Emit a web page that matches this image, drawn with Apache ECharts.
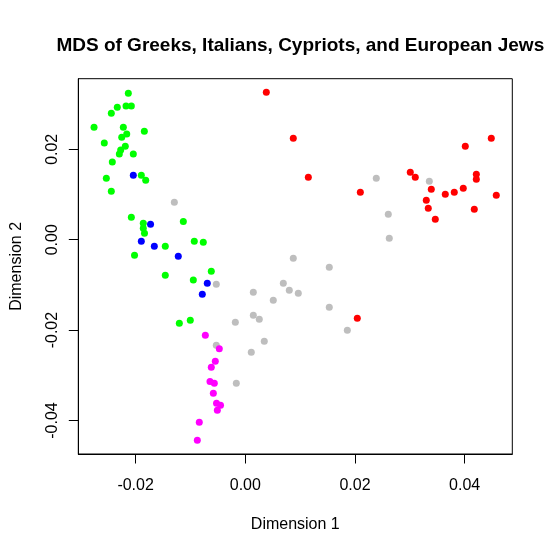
<!DOCTYPE html>
<html>
<head>
<meta charset="utf-8">
<script src="https://cdn.jsdelivr.net/npm/echarts@6/dist/echarts.min.js"></script>
<style>
html,body{margin:0;padding:0;background:#fff;}
#chart{width:553px;height:552px;}
</style>
</head>
<body>
<div id="chart"></div>
<script>
// Data (Dimension 1, Dimension 2)
var greenPoints = [
  [-0.02133,0.03239],[-0.02334,0.02929],[-0.02175,0.02958],[-0.02078,0.02958],
  [-0.02443,0.02796],[-0.02758,0.02487],[-0.02224,0.02487],[-0.01841,0.02398],
  [-0.02162,0.02338],[-0.02253,0.02265],[-0.02571,0.02139],[-0.02188,0.02066],
  [-0.02272,0.01985],[-0.02297,0.01896],[-0.02042,0.01896],[-0.02425,0.01719],
  [-0.02534,0.01358],[-0.01896,0.01425],[-0.01816,0.01314],[-0.02443,0.01071],
  [-0.02078,0.00496],[-0.01130,0.00403],[-0.01860,0.00363],[-0.01860,0.00252],
  [-0.01838,0.00142],[-0.01459,-0.00144],[-0.00930,-0.00035],[-0.00766,-0.00058],
  [-0.02020,-0.00345],[-0.01459,-0.00788],[-0.00620,-0.00699],[-0.00948,-0.00892],
  [-0.01203,-0.01850],[-0.01003,-0.01783]
];
var bluePoints = [
  [-0.02042,0.01425],[-0.01728,0.00341],[-0.01896,-0.00035],[-0.01659,-0.00144],
  [-0.01222,-0.00367],[-0.00693,-0.00965],[-0.00784,-0.01208]
];
var grayPoints = [
  [-0.01294,0.00827],[-0.00529,-0.00987],[-0.00529,-0.02336],[-0.00164,-0.03177],
  [-0.00182,-0.01827],[0.00109,-0.02491],[0.00346,-0.02248],[0.00146,-0.01673],
  [0.00255,-0.01761],[0.00146,-0.01164],[0.00510,-0.01341],[0.00693,-0.00965],
  [0.00802,-0.01119],[0.00966,-0.01186],[0.00875,-0.00412],[0.01531,-0.00611],
  [0.01531,-0.01496],[0.01860,-0.02004],[0.02388,0.01358],[0.03355,0.01292],
  [0.02607,0.00562],[0.02625,0.00031]
];
var redPoints = [
  [0.00383,0.03261],[0.00875,0.02243],[0.01149,0.01381],[0.02097,0.01049],
  [0.03008,0.01491],[0.03099,0.01381],[0.03391,0.01115],[0.03300,0.00872],
  [0.03336,0.00695],[0.03464,0.00451],[0.03646,0.01004],[0.03810,0.01049],
  [0.03974,0.01137],[0.04011,0.02066],[0.04485,0.02243],[0.04212,0.01447],
  [0.04212,0.01336],[0.04175,0.00673],[0.04576,0.00982],[0.02042,-0.01739]
];
var magentaPoints = [
  [-0.00729,-0.02115],[-0.00474,-0.02412],[-0.00547,-0.02690],[-0.00620,-0.02823],
  [-0.00644,-0.03137],[-0.00565,-0.03177],[-0.00583,-0.03398],[-0.00525,-0.03619],
  [-0.00452,-0.03662],[-0.00510,-0.03772],[-0.00839,-0.04040],[-0.00875,-0.04438]
];
var xTicks = [-0.02, 0.00, 0.02, 0.04];
var yTicks = [-0.04, -0.02, 0.00, 0.02];
var titleText = 'MDS of Greeks, Italians, Cypriots, and European Jews';
var xName = 'Dimension 1';
var yName = 'Dimension 2';

var FONT = '"Liberation Sans", Arial, sans-serif';
var chart = echarts.init(document.getElementById('chart'), null, {renderer:'canvas'});

function mk(data, color){
  return {type:'scatter', data:data, symbol:'circle', symbolSize:7,
    itemStyle:{color:color, opacity:1}, emphasis:{disabled:true}, animation:false};
}

chart.setOption({
  animation:false,
  backgroundColor:'#ffffff',
  title:{text:titleText, left:295.3, top:31, textAlign:'center',
    textStyle:{fontFamily:FONT, fontWeight:'bold', fontSize:19, color:'#000'}},
  grid:{left:78.3, right:40.7, top:78.7, bottom:98, show:true, borderColor:'#000', borderWidth:1, backgroundColor:'transparent'},
  xAxis:{type:'value', min:-0.03045, max:0.04868,
    name:xName, nameLocation:'middle', nameGap:63,
    nameTextStyle:{fontFamily:FONT, fontSize:16, color:'#000'},
    axisLine:{show:true, onZero:false, lineStyle:{color:'#000', width:1}},
    axisTick:{show:true, inside:false, length:9.5, customValues:xTicks, lineStyle:{color:'#000', width:1}},
    axisLabel:{show:true, margin:24, customValues:xTicks, fontFamily:FONT, fontSize:16, color:'#000',
      formatter:function(v){return v.toFixed(2);}},
    splitLine:{show:false}},
  yAxis:{type:'value', min:-0.04741, max:0.03562,
    name:yName, nameLocation:'middle', nameGap:53.6, nameRotate:90,
    nameTextStyle:{fontFamily:FONT, fontSize:16, color:'#000'},
    axisLine:{show:true, onZero:false, lineStyle:{color:'#000', width:1}},
    axisTick:{show:true, inside:false, length:9.5, customValues:yTicks, lineStyle:{color:'#000', width:1}},
    axisLabel:{show:true, rotate:90, margin:18, customValues:yTicks, fontFamily:FONT, fontSize:16, color:'#000',
      formatter:function(v){return v.toFixed(2);}},
    splitLine:{show:false}},
  series:[
    mk(greenPoints,'#00FF00'),
    mk(bluePoints,'#0000FF'),
    mk(grayPoints,'#BEBEBE'),
    mk(redPoints,'#FF0000'),
    mk(magentaPoints,'#FF00FF')
  ]
});
</script>
</body>
</html>
